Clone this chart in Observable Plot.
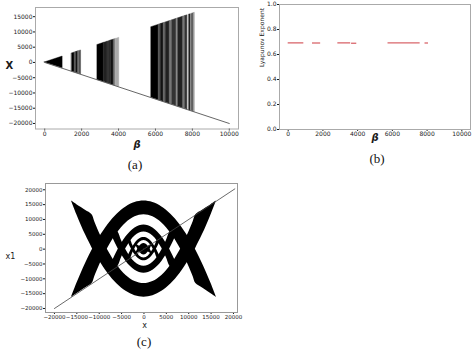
<!DOCTYPE html>
<html><head><meta charset="utf-8">
<script src="https://cdn.jsdelivr.net/npm/d3@7"></script>
<script src="https://cdn.jsdelivr.net/npm/@observablehq/plot@0.6"></script>
<style>
body{margin:0;background:#fff;}
#fig{position:relative;width:474px;height:351px;overflow:hidden;background:#fff;}
#fig > div.p{position:absolute;}
.cap{position:absolute;font-family:"Liberation Serif","DejaVu Serif",serif;font-size:13px;color:#111;transform:translate(-50%,-50%);white-space:nowrap;}
</style></head><body>
<div id="fig">
<div class="p" id="pa" style="left:0;top:0"></div>
<div class="p" id="pb" style="left:240px;top:0"></div>
<div class="p" id="pc" style="left:0;top:170px"></div>
<div class="cap" style="left:135px;top:165px">(a)</div>
<div class="cap" style="left:377px;top:159px">(b)</div>
<div class="cap" style="left:144px;top:342px">(c)</div>
</div>
<script>
// ---------- (a) bifurcation diagram ----------
const edgeBeta  = [0, 970, 1476, 1640, 1700, 1820, 1890, 1970, 2860, 3220, 3400, 3580, 3760, 3850, 4040, 5780, 6195, 6285, 6465, 6555, 6790, 6915, 7150, 7240, 7510, 7600, 7730, 7820, 7910, 7960, 8090, 8140];
const edgeUpper = [0, 1940, 2952, 3280, 3400, 3640, 3780, 3940, 5720, 6440, 6800, 7160, 7520, 7700, 8080, 11560, 12390, 12570, 12930, 13110, 13580, 13830, 14300, 14480, 15020, 15200, 15460, 15640, 15820, 15920, 16180, 16280];
const edgeLower = [0, -1940, -2952, -3280, -3400, -3640, -3780, -3940, -5720, -6440, -6800, -7160, -7520, -7700, -8080, -11560, -12390, -12570, -12930, -13110, -13580, -13830, -14300, -14480, -15020, -15200, -15460, -15640, -15820, -15920, -16180, -16280];
// point density of each interval between consecutive edges (0 = periodic, no band)
const bandDensity = [1, 0, 1, 0.55, 0.93, 0.47, 0.73, 0, 1, 0.87, 0.8, 0.93, 0.55, 0.33, 0, 1, 0.6, 0.93, 0.53, 0.87, 0.53, 0.8, 0.47, 0.87, 0.47, 0.8, 0, 0.87, 0, 0.67, 0.33];
const fixedBeta = [0, 10000];
const fixedX = [0, -20000];
const xTicksA = [0, 2000, 4000, 6000, 8000, 10000];
const yTicksA = [-20000, -15000, -10000, -5000, 0, 5000, 10000, 15000];

// ---------- (b) Lyapunov exponent ----------
const lyapStart = [0, 1400, 2860, 3650, 5750, 7880];
const lyapEnd   = [900, 1870, 3600, 3950, 7600, 8080];
const lyapValue = [0.693, 0.692, 0.693, 0.69, 0.693, 0.692];
const xTicksB = [0, 2000, 4000, 6000, 8000, 10000];
const yTicksB = [0, 0.2, 0.4, 0.6, 0.8, 1.0];

// ---------- (c) return map x vs x1 ----------
const g4X = [-16200, -15000, -14000, -13000, -11600, -11000, -10000, -8000, -6000, -4000, -2000, 0, 2000, 4000, 6000, 8000, 10000, 11000, 11600, 13000, 14000, 15000, 16200];
const g4UpperHi = [-16200, -11578, -7998, -4664, -412, 1262, 3854, 8299, 11756, 14225, 15706, 16200, 15706, 14225, 11756, 8299, 3854, 1262, -412, -4664, -7998, -11578, -16200];
const g4UpperLo = [-16200, -15000, -14000, -13000, -11600, -9262, -5641, 566, 5393, 8841, 10910, 11600, 10910, 8841, 5393, 566, -5641, -9262, -11600, -13000, -14000, -15000, -16200];
const g4LowerLo = [16200, 11578, 7998, 4664, 412, -1262, -3854, -8299, -11756, -14225, -15706, -16200, -15706, -14225, -11756, -8299, -3854, -1262, 412, 4664, 7998, 11578, 16200];
const g4LowerHi = [16200, 15000, 14000, 13000, 11600, 9262, 5641, -566, -5393, -8841, -10910, -11600, -10910, -8841, -5393, -566, 5641, 9262, 11600, 13000, 14000, 15000, 16200];

const g3X = [-8100, -7500, -7000, -6500, -5800, -5000, -4000, -3000, -2000, -1000, 0, 1000, 2000, 3000, 4000, 5000, 5800, 6500, 7000, 7500, 8100];
const g3UpperHi = [-8100, -5789, -3999, -2332, -206, 1927, 4149, 5878, 7112, 7853, 8100, 7853, 7112, 5878, 4149, 1927, -206, -2332, -3999, -5789, -8100];
const g3UpperLo = [-8100, -7500, -7000, -6500, -5800, -2821, 283, 2697, 4421, 5455, 5800, 5455, 4421, 2697, 283, -2821, -5800, -6500, -7000, -7500, -8100];
const g3LowerLo = [8100, 5789, 3999, 2332, 206, -1927, -4149, -5878, -7112, -7853, -8100, -7853, -7112, -5878, -4149, -1927, 206, 2332, 3999, 5789, 8100];
const g3LowerHi = [8100, 7500, 7000, 6500, 5800, 2821, -283, -2697, -4421, -5455, -5800, -5455, -4421, -2697, -283, 2821, 5800, 6500, 7000, 7500, 8100];

const g2X = [-3950, -3600, -3300, -2950, -2500, -2000, -1500, -1000, -500, 0, 500, 1000, 1500, 2000, 2500, 2950, 3300, 3600, 3950];
const g2UpperHi = [-3950, -2612, -1564, -456, 785, 1925, 2811, 3444, 3823, 3950, 3823, 3444, 2811, 1925, 785, -456, -1564, -2612, -3950];
const g2UpperLo = [-3950, -3600, -3300, -2950, -1287, 238, 1425, 2272, 2780, 2950, 2780, 2272, 1425, 238, -1287, -2950, -3300, -3600, -3950];
const g2LowerLo = [3950, 2612, 1564, 456, -785, -1925, -2811, -3444, -3823, -3950, -3823, -3444, -2811, -1925, -785, 456, 1564, 2612, 3950];
const g2LowerHi = [3950, 3600, 3300, 2950, 1287, -238, -1425, -2272, -2780, -2950, -2780, -2272, -1425, -238, 1287, 2950, 3300, 3600, 3950];

const g1X = [-1940, -1500, -1000, -500, 0, 500, 1000, 1500, 1940];
const g1UpperHi = [-1940, -380, 909, 1682, 1940, 1682, 909, -380, -1940];
const g1UpperLo = [-1940, -1500, -1000, -500, 0, -500, -1000, -1500, -1940];
const g1LowerLo = [1940, 380, -909, -1682, -1940, -1682, -909, 380, 1940];
const g1LowerHi = [1940, 1500, 1000, 500, 0, 500, 1000, 1500, 1940];

const diagX = [-20000, 20300];
const diagY = [-20000, 20300];
const ticksC = [-20000, -15000, -10000, -5000, 0, 5000, 10000, 15000, 20000];

// ---------- build tables ----------
const bandRows = [];
for (let i = 0; i < bandDensity.length; i++) {
  if (!bandDensity[i]) continue;
  for (const j of [i, i + 1]) bandRows.push({beta: edgeBeta[j], lo: edgeLower[j], hi: edgeUpper[j], band: i, density: bandDensity[i]});
}
const fixedRows = fixedBeta.map((b, i) => ({beta: b, x: fixedX[i]}));
const lyapRows = lyapStart.map((s, i) => ({s, e: lyapEnd[i], v: lyapValue[i]}));
const arcRows = [];
[["g4", g4X, g4UpperLo, g4UpperHi, g4LowerLo, g4LowerHi],
 ["g3", g3X, g3UpperLo, g3UpperHi, g3LowerLo, g3LowerHi],
 ["g2", g2X, g2UpperLo, g2UpperHi, g2LowerLo, g2LowerHi],
 ["g1", g1X, g1UpperLo, g1UpperHi, g1LowerLo, g1LowerHi]].forEach(([g, xs, ul, uh, ll, lh]) => {
  xs.forEach((x, i) => {
    arcRows.push({series: g + "u", x, lo: ul[i], hi: uh[i]});
    arcRows.push({series: g + "l", x, lo: ll[i], hi: lh[i]});
  });
});
const diagRows = diagX.map((x, i) => ({x, y: diagY[i]}));

const fmt = d3.format("d");
const baseStyle = {fontFamily: "DejaVu Sans, sans-serif", fontSize: "6px", background: "transparent", color: "#1a1a1a", overflow: "visible"};

// ---------- (a) ----------
const pa = Plot.plot({
  width: 245, height: 155,
  marginLeft: 35, marginRight: 7, marginTop: 7, marginBottom: 26.5,
  style: baseStyle,
  x: {domain: [-500, 10500], ticks: xTicksA, tickFormat: fmt, tickSize: 2, tickPadding: 0.5, label: null},
  y: {domain: [-21810, 18010], ticks: yTicksA, tickFormat: fmt, tickSize: 2, tickPadding: 1, label: null},
  color: {type: "linear", domain: [0, 1], range: ["#ffffff", "#000000"]},
  marks: [
    Plot.areaY(bandRows, {x: "beta", y1: "lo", y2: "hi", z: "band", fill: "density", stroke: "density", strokeWidth: 0.4}),
    Plot.line(fixedRows, {x: "beta", y: "x", stroke: "#555", strokeWidth: 0.9}),
    Plot.frame({stroke: "#aaa"}),
    Plot.text(["X"], {text: d => d, frameAnchor: "left", dx: -30, dy: -2, fontSize: 10, fontWeight: "bold"}),
    Plot.text(["β"], {text: d => d, frameAnchor: "bottom", dy: 18.5, fontSize: 10, fontWeight: "bold", fontStyle: "italic"})
  ]
});
document.getElementById("pa").appendChild(pa);

// ---------- (b) ----------
const pb = Plot.plot({
  width: 234, height: 150,
  marginLeft: 39, marginRight: 4, marginTop: 4, marginBottom: 21,
  style: baseStyle,
  x: {domain: [-500, 10500], ticks: xTicksB, tickFormat: fmt, tickSize: 2, tickPadding: 0.5, label: null},
  y: {domain: [0, 1], ticks: yTicksB, tickFormat: d3.format(".1f"), tickSize: 2, tickPadding: 1, label: null},
  marks: [
    Plot.ruleY(lyapRows, {y: "v", x1: "s", x2: "e", stroke: "#d9666b", strokeWidth: 1.3}),
    Plot.frame({stroke: "#aaa"}),
    Plot.text(["Lyapunov Exponent"], {text: d => d, frameAnchor: "left", dx: -17, rotate: -90, fontSize: 6}),
    Plot.text(["β"], {text: d => d, frameAnchor: "bottom", dy: 11, fontSize: 10, fontWeight: "bold", fontStyle: "italic"})
  ]
});
document.getElementById("pb").appendChild(pb);

// ---------- (c) ----------
const pc = Plot.plot({
  width: 245, height: 181,
  marginLeft: 45, marginRight: 8, marginTop: 13, marginBottom: 39,
  style: {...baseStyle, fontSize: "5.5px"},
  x: {domain: [-22000, 20900], ticks: ticksC, tickFormat: fmt, tickSize: 2, tickPadding: 0.5, label: null},
  y: {domain: [-21350, 22120], ticks: ticksC, tickFormat: fmt, tickSize: 2, tickPadding: 1, label: null},
  marks: [
    Plot.areaY(arcRows, {x: "x", y1: "lo", y2: "hi", z: "series", fill: "#000", curve: "catmull-rom"}),
    Plot.line(diagRows, {x: "x", y: "y", stroke: "#444", strokeWidth: 0.8}),
    Plot.frame({stroke: "#999"}),
    Plot.text(["x1"], {text: d => d, frameAnchor: "left", dx: -40, dy: 8.5, fontSize: 8}),
    Plot.text(["x"], {text: d => d, frameAnchor: "bottom", dx: 3, dy: 15, fontSize: 8})
  ]
});
document.getElementById("pc").appendChild(pc);
</script>
</body></html>
